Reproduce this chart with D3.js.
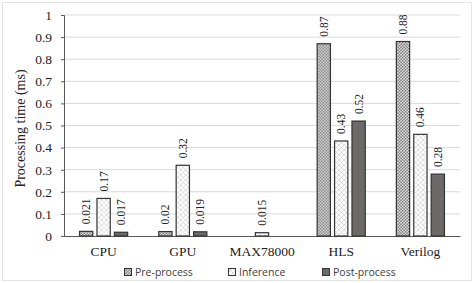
<!DOCTYPE html>
<html>
<head>
<meta charset="utf-8">
<script src="https://cdn.jsdelivr.net/npm/d3@7"></script>
<style>
  body { margin: 0; background: #fff; }
  svg { display: block; }
</style>
</head>
<body>
<svg id="chart" width="474" height="283"></svg>
<script>
const categories = ["CPU", "GPU", "MAX78000", "HLS", "Verilog"];
const series = ["Pre-process", "Inference", "Post-process"];
const preProcess = [0.021, 0.02, null, 0.87, 0.88];
const inference = [0.17, 0.32, 0.015, 0.43, 0.46];
const postProcess = [0.017, 0.019, null, 0.52, 0.28];
const yTicks = [0, 0.1, 0.2, 0.3, 0.4, 0.5, 0.6, 0.7, 0.8, 0.9, 1];

const values = [preProcess, inference, postProcess];
const fills = ["url(#dots)", "url(#cross)", "#6e6969"];
const serif = "Liberation Serif";

const svg = d3.select("#chart");
const margin = {top: 15, right: 14, bottom: 47, left: 64};
const width = 474 - margin.left - margin.right;
const height = 283 - margin.top - margin.bottom;

// outer frame
svg.append("rect")
    .attr("x", 2.5).attr("y", 2.5)
    .attr("width", 469).attr("height", 278)
    .attr("fill", "#fff")
    .attr("stroke", "#e4e4e4");

// patterns
const defs = svg.append("defs");
const dots = defs.append("pattern")
    .attr("id", "dots")
    .attr("patternUnits", "userSpaceOnUse")
    .attr("width", 3).attr("height", 3);
dots.append("rect").attr("width", 3).attr("height", 3).attr("fill", "#e6e6e6");
dots.append("rect").attr("width", 1.5).attr("height", 1.5).attr("fill", "#777");
dots.append("rect").attr("x", 1.5).attr("y", 1.5).attr("width", 1.5).attr("height", 1.5).attr("fill", "#777");

const cross = defs.append("pattern")
    .attr("id", "cross")
    .attr("patternUnits", "userSpaceOnUse")
    .attr("width", 5).attr("height", 5);
cross.append("rect").attr("width", 5).attr("height", 5).attr("fill", "#fff");
cross.append("path")
    .attr("d", "M0,0L5,5M5,0L0,5")
    .attr("stroke", "#d2d2d2")
    .attr("stroke-width", 0.8);

const g = svg.append("g")
    .attr("transform", `translate(${margin.left},${margin.top})`);

const x = d3.scaleBand().domain(categories).range([0, width]);
const xs = d3.scaleBand().domain(series).range([x.bandwidth() * 0.19, x.bandwidth() * 0.81]).paddingInner(0.18);
const y = d3.scaleLinear().domain([0, 1]).range([height, 0]);

// grid
g.append("g")
    .selectAll("line")
    .data(yTicks.slice(1))
    .enter().append("line")
    .attr("x1", 0).attr("x2", width)
    .attr("y1", d => y(d)).attr("y2", d => y(d))
    .attr("stroke", "#d9d9d9")
    .attr("stroke-width", 1);

// y axis
const yAxis = g.append("g")
    .call(d3.axisLeft(y).tickValues(yTicks).tickSize(3).tickPadding(9).tickFormat(d => d3.format("")(d)))
    .attr("font-family", serif)
    .attr("font-size", 13.5);
yAxis.select(".domain").attr("stroke", "#595959");
yAxis.selectAll(".tick line").attr("stroke", "#595959");
yAxis.selectAll("text").attr("fill", "#222");

// x axis
const xAxis = g.append("g")
    .attr("transform", `translate(0,${height})`)
    .call(d3.axisBottom(x).tickSize(0).tickPadding(10))
    .attr("font-family", serif)
    .attr("font-size", 13.5);
xAxis.select(".domain").attr("stroke", "#595959");
xAxis.selectAll("text").attr("fill", "#222");

// bars
const rows = [];
values.forEach((arr, si) => arr.forEach((v, ci) => {
    if (v != null) rows.push({s: series[si], si: si, c: categories[ci], v: v});
}));

const bar = g.append("g")
    .attr("font-family", serif)
    .attr("font-size", 11.5)
    .selectAll("g")
    .data(rows)
    .enter().append("g")
    .attr("transform", d => `translate(${x(d.c) + xs(d.s)},0)`);

bar.append("rect")
    .attr("x", 0.5)
    .attr("y", d => y(d.v))
    .attr("width", xs.bandwidth() - 1)
    .attr("height", d => height - y(d.v))
    .attr("fill", d => fills[d.si])
    .attr("stroke", "#333")
    .attr("stroke-width", 1.2);

bar.append("text")
    .attr("transform", d => `translate(${xs.bandwidth() / 2 + 4},${y(d.v) - 7}) rotate(-90)`)
    .attr("fill", "#222")
    .text(d => d.v);

// y label
svg.append("text")
    .attr("transform", `translate(25,${margin.top + height / 2 + 3}) rotate(-90)`)
    .attr("text-anchor", "middle")
    .attr("font-family", serif)
    .attr("font-size", 14)
    .attr("fill", "#222")
    .text("Processing time (ms)");

// legend
const legendX = [124, 228, 322];
const legend = svg.append("g")
    .attr("font-family", "Open Sans")
    .attr("font-size", 10.5)
    .selectAll("g")
    .data(series)
    .enter().append("g")
    .attr("transform", (d, i) => `translate(${legendX[i]},268)`);

legend.append("rect")
    .attr("x", 0.5).attr("y", 0.5)
    .attr("width", 7).attr("height", 7)
    .attr("fill", (d, i) => fills[i])
    .attr("stroke", "#333")
    .attr("stroke-width", 1);

legend.append("text")
    .attr("x", 11)
    .attr("y", 8)
    .attr("fill", "#404040")
    .text(d => d);
</script>
</body>
</html>
